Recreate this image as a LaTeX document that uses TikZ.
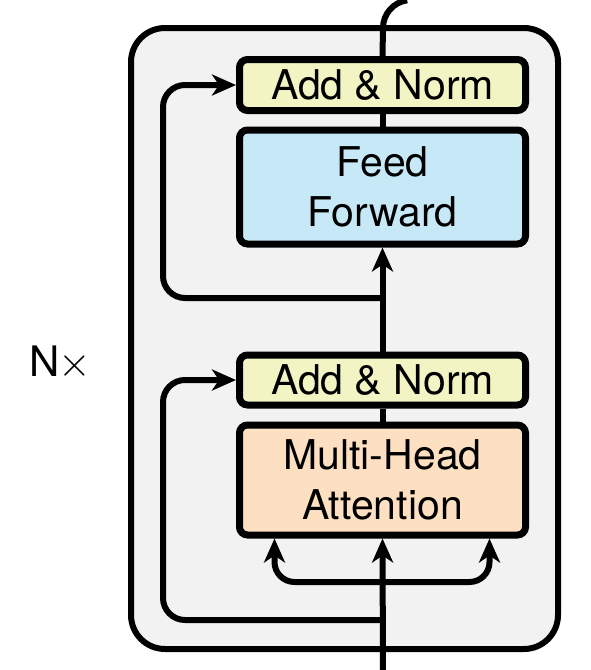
\documentclass[tikz,border=0pt]{standalone}
\usepackage{fontspec}
\setmainfont{TeX Gyre Heros}
\newfontfamily\lmmfont{Latin Modern Math}
\usetikzlibrary{arrows.meta,calc}
\definecolor{bgc}{RGB}{242,242,242}
\definecolor{normc}{RGB}{242,244,196}
\definecolor{ffc}{RGB}{198,232,247}
\definecolor{mhac}{RGB}{252,224,193}
\begin{document}
\begin{tikzpicture}[x=1pt,y=-1pt,line width=6pt,
  blk/.style={draw=black,line width=7pt,rounded corners=8pt,minimum width=286pt,inner sep=0pt,
    font=\fontsize{41}{50}\selectfont,align=center},
  arr/.style={-{Stealth[length=24pt,width=21pt,inset=7pt]}},
  lbl/.style={font=\fontsize{42}{50}\selectfont,inner sep=0pt}]
\useasboundingbox (0,0) rectangle (590,670);
\clip (0,0) rectangle (590,670);
% outer block
\draw[fill=bgc,rounded corners=34pt] (131,28) rectangle (558,649);
% blocks
\node[blk,fill=normc,minimum height=51pt] (an2) at (382.5,85) {Add \& Norm};
\node[blk,fill=ffc,minimum height=114pt] (ff) at (382.5,187) {Feed\\Forward};
\node[blk,fill=normc,minimum height=50pt] (an1) at (382.5,380) {Add \& Norm};
\node[blk,fill=mhac,minimum height=110pt] (mha) at (382.5,480) {Multi-Head\\Attention};
\node[lbl,anchor=base west] (nx) at (27,376) {N{\lmmfont\kern-2pt ×}};
% coordinates
\coordinate (in) at (383,675);
\coordinate (fork) at (383,582);
\coordinate (res1) at (383,620);
\coordinate (res2) at (383,298);
\coordinate (out) at (383,28);
% main path
\draw[arr] (in) -- (mha.south);
\draw[arr,rounded corners=20pt] (fork) -| ($(mha.south)+(-108,0)$);
\draw[arr,rounded corners=20pt] (fork) -| ($(mha.south)+(107,0)$);
\draw (mha.north) -- (an1.south);
\draw[arr] (an1.north) -- (ff.south);
\draw (ff.north) -- (an2.south);
\draw (an2.north) -- (out) arc[start angle=180,end angle=262,radius=28];
% residuals
\draw[arr,rounded corners=22pt] (res1) -| (163,380) -- (an1.west);
\draw[arr,rounded corners=22pt] (res2) -| (163,85) -- (an2.west);
\end{tikzpicture}
\end{document}
